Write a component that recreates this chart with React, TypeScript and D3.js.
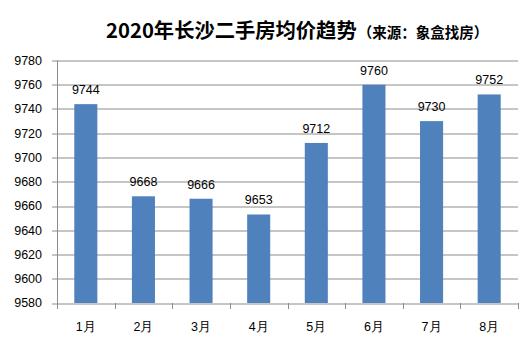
import React from 'react'
import { scaleBand, scaleLinear, range } from 'd3'

const months = ['1月', '2月', '3月', '4月', '5月', '6月', '7月', '8月']
const prices = [9744, 9668, 9666, 9653, 9712, 9760, 9730, 9752]
const yTicks = range(9580, 9781, 20)

const width = 532
const height = 346
const margin = { top: 60.5, right: 14, bottom: 43, left: 57 }

const App = () => {
  const innerW = width - margin.left - margin.right
  const innerH = height - margin.top - margin.bottom

  const x = scaleBand().domain(months).range([0, innerW]).paddingInner(0.6).paddingOuter(0.3)
  const y = scaleLinear().domain([9580, 9780]).range([innerH, 0])
  const step = x.step()
  const band0 = x(months[0])! - x.paddingOuter() * step

  const font = '"Liberation Sans", Arial, sans-serif'

  return (
    <svg width={width} height={height} style={{ position: 'absolute', left: 0, top: 0, background: '#fff' }}>
      <text x={106} y={38} fontFamily='"Noto Sans CJK SC", sans-serif' fontWeight="bold">
        <tspan fontSize={20.3}>2020年长沙二手房均价趋势</tspan>
        <tspan fontSize={14.5} dx={1}>（来源：象盒找房）</tspan>
      </text>
      <g transform={`translate(${margin.left}, ${margin.top})`}>
        {yTicks.map(t => (
          <g key={t}>
            <line x1={-5} x2={innerW} y1={Math.round(y(t)) + 0.5} y2={Math.round(y(t)) + 0.5} stroke="#8c8c8c" />
            <text x={-15} y={y(t)} dy="0.35em" textAnchor="end" fontSize={12.5} fontFamily={font} fill="#000">{t}</text>
          </g>
        ))}
        <line x1={0.5} x2={0.5} y1={y(9780)} y2={innerH} stroke="#8c8c8c" />
        {range(months.length + 1).map(i => (
          <line key={i} x1={Math.round(band0 + i * step) + 0.5} x2={Math.round(band0 + i * step) + 0.5}
            y1={innerH} y2={innerH + 6} stroke="#8c8c8c" />
        ))}
        {prices.map((v, i) => (
          <g key={months[i]}>
            <rect x={x(months[i])} y={y(v)} width={x.bandwidth()} height={innerH - y(v)} fill="#4f81bd" />
            <text x={x(months[i])! + x.bandwidth() / 2} y={y(v) - 10} textAnchor="middle" fontSize={12.5} fontFamily={font}>{v}</text>
          </g>
        ))}
        {months.map(m => (
          <text key={m} x={x(m)! + x.bandwidth() / 2} y={innerH + 28} textAnchor="middle" fontSize={12.5}
            fontFamily={font}>{m}</text>
        ))}
      </g>
    </svg>
  )
}

export default App
